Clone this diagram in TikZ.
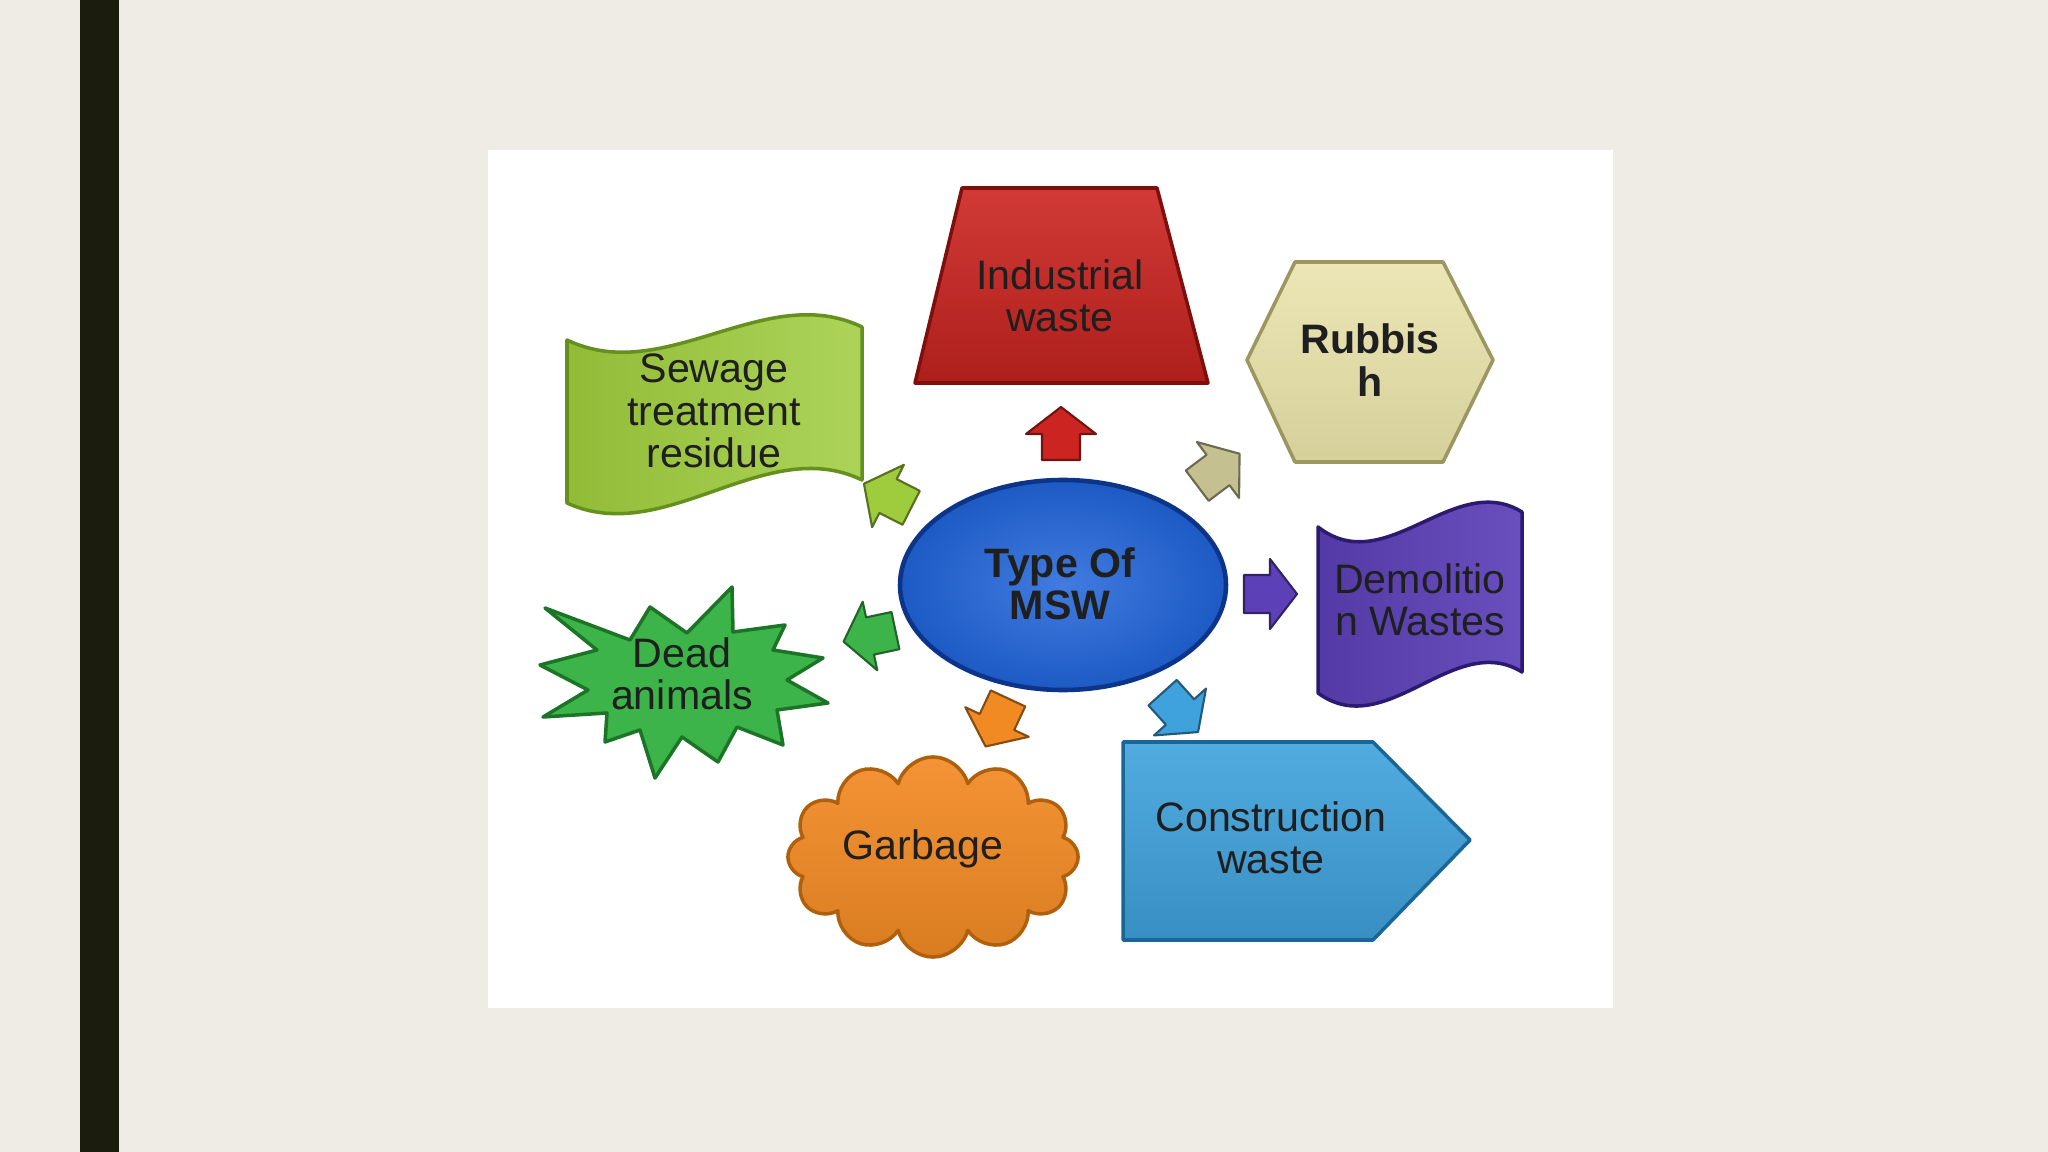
\documentclass[tikz,border=0pt]{standalone}
\usepackage{fontspec}
\setmainfont{Liberation Sans}
\usetikzlibrary{shapes.symbols,shapes.geometric}
\definecolor{bgc}{HTML}{EFEBE5}
\definecolor{barc}{HTML}{1B1B0E}
\definecolor{redf}{HTML}{CC2420}
\definecolor{redd}{HTML}{7E0F0C}
\definecolor{khf}{HTML}{E8E2A8}
\definecolor{khd}{HTML}{9C9660}
\definecolor{purf}{HTML}{5C40B8}
\definecolor{purd}{HTML}{2C1A70}
\definecolor{bluf}{HTML}{3FA2DC}
\definecolor{blud}{HTML}{1B6698}
\definecolor{orf}{HTML}{F28A24}
\definecolor{ord}{HTML}{B0600C}
\definecolor{grf}{HTML}{3CB44A}
\definecolor{grd}{HTML}{1C7426}
\definecolor{lgf}{HTML}{9ECC3C}
\definecolor{lgd}{HTML}{66901E}
\definecolor{elf}{HTML}{2064DA}
\definecolor{eld}{HTML}{0C358A}
\newcommand\blockarr[4]{%
  \begin{scope}[shift={(#1,#2)},rotate=#3]
    \filldraw[fill=#4, draw=#4!55!black, line width=0.6pt, line join=round]
      (-26,-19) -- (0,-19) -- (0,-35) -- (27,0) -- (0,35) -- (0,19) -- (-26,19) -- cycle;
  \end{scope}}
\tikzset{
  lbl/.style={align=center, font=\fontsize{11.7}{12}\selectfont, text=black!88, inner sep=0pt},
  blbl/.style={lbl, font=\fontsize{11.7}{12}\selectfont\bfseries},
  shp/.style={line width=1pt, line join=round}
}
\begin{document}
\begin{tikzpicture}[x=0.01cm,y=-0.01cm]
\useasboundingbox (0,0) rectangle (2048,1152);
\fill[bgc] (0,0) rectangle (2048,1152);
\fill[barc] (80,0) rectangle (119,1152);
\fill[white] (488,150) rectangle (1613,1008);

% Industrial waste trapezoid
\draw[shp, draw=redd, top color=redf!90!white, bottom color=redf!85!black]
  (962,188) -- (1157,188) -- (1208,383) -- (915,383) -- cycle;
\node[lbl] (industrial) at (1060,296) {Industrial\\waste};

% Rubbish hexagon
\draw[shp, draw=khd, top color=khf!85!white, bottom color=khf!92!black]
  (1247,360) -- (1295,262) -- (1443,262) -- (1493,360) -- (1443,462) -- (1295,462) -- cycle;
\node[blbl] (rubbish) at (1370,360) {Rubbis\\h};

% Sewage wave
\draw[shp, draw=lgd, left color=lgf!92!black, right color=lgf!85!white]
  (567,340) .. controls (665,387) and (765,280) .. (862,327)
  -- (862,480) .. controls (765,433) and (665,548) .. (567,503) -- cycle;
\node[lbl] (sewage) at (714,411) {Sewage\\treatment\\residue};

% Demolition wave
\draw[shp, draw=purd, left color=purf!90!black, right color=purf!92!white]
  (1318,527) .. controls (1386,580) and (1454,470) .. (1522,512)
  -- (1522,672) .. controls (1454,630) and (1386,743) .. (1318,693) -- cycle;
\node[lbl] (demolition) at (1420,600) {Demolitio\\n Wastes};

% Construction pentagon
\draw[shp, draw=blud, top color=bluf!90!white, bottom color=bluf!88!black]
  (1123,742) -- (1373,742) -- (1470,840) -- (1373,940) -- (1123,940) -- cycle;
\node[lbl] (construction) at (1271,838) {Construction\\waste};

% Garbage cloud
\node[cloud, cloud puffs=12, aspect=1.45, minimum width=2.9cm, minimum height=2cm,
      shp, draw=ord, top color=orf!92!white, bottom color=orf!90!black] (garbagecloud) at (933,857) {};
\node[lbl] (garbage) at (923,849) {Garbage};

% Dead animals star
\draw[shp, draw=grd, fill=grf]
  (545,608) -- (630,640) -- (650,607) -- (687,633) -- (732,587) -- (733,632)
  -- (785,625) -- (773,650) -- (823,658) -- (787,680) -- (828,703) -- (777,710)
  -- (783,745) -- (737,727) -- (718,762) -- (682,737) -- (655,778) -- (640,730)
  -- (605,742) -- (607,713) -- (543,717) -- (588,690) -- (540,665) -- (597,650) -- cycle;
\node[lbl] (dead) at (682,674) {Dead\\animals};

% Centre ellipse
\draw[line width=1.3pt, draw=eld, inner color=elf!85!white, outer color=elf!90!black]
  (1063,585) ellipse [x radius=163, y radius=105];
\node[blbl] (msw) at (1060,584) {Type Of\\MSW};

% small block arrows
\blockarr{1061}{434}{90}{redf}
\blockarr{1218}{470}{37}{khf!85!black}
\blockarr{1270}{594}{0}{purf}
\blockarr{1180}{712}{-48}{bluf}
\blockarr{997}{722}{-115}{orf}
\blockarr{870}{636}{192}{grf}
\blockarr{888}{496}{153}{lgf}
\end{tikzpicture}
\end{document}
